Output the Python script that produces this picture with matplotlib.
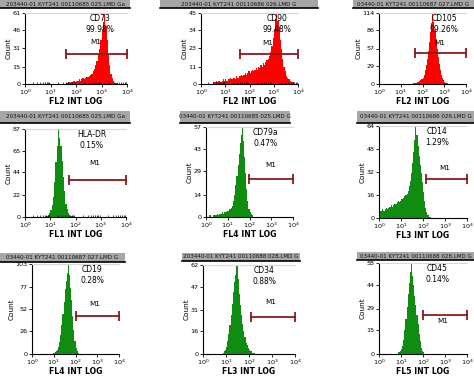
import numpy as np
import matplotlib
matplotlib.use("Agg")
import matplotlib.pyplot as plt

# flow cytometry histograms, counts per 0.05-decade channel starting at `start` (log10)
step = 0.05

cd73_start = 1.60
cd73 = [1, 1, 2, 1, 2, 2, 3, 2, 3, 3, 4, 3, 4, 5, 4, 5, 6, 6, 7, 8, 9, 11, 13, 16, 20,
        25, 30, 38, 46, 53, 61, 50, 38, 25, 16, 9, 5, 3, 1, 1]
cd90_start = 0.50
cd90 = [1, 1, 2, 1, 2, 2, 1, 2, 3, 2, 3, 2, 3, 3, 4, 3, 4, 4, 3, 5, 4, 5, 5, 6, 5, 6,
        7, 6, 7, 8, 7, 8, 9, 8, 9, 10, 9, 11, 10, 12, 11, 13, 12, 14, 15, 16, 18, 20,
        24, 29, 35, 41, 45, 40, 36, 28, 22, 16, 11, 8, 5, 4, 3, 2, 1, 1, 1]
cd105_start = 1.55
cd105 = [1, 1, 2, 2, 3, 4, 5, 6, 8, 10, 15, 22, 30, 40, 53, 68, 83, 98, 112, 100, 86,
         72, 56, 44, 32, 22, 15, 10, 6, 4, 2, 1]
hladr_start = 0.85
hladr = [1, 2, 4, 7, 12, 20, 35, 54, 70, 87, 78, 70, 55, 40, 26, 13, 8, 4, 2, 1, 1]
cd79a_start = 0.15
cd79a = [1, 1, 0, 1, 1, 1, 1, 2, 1, 2, 2, 2, 3, 2, 3, 3, 4, 4, 5, 5, 6, 7, 10, 14, 20,
         26, 33, 40, 47, 52, 57, 48, 38, 28, 18, 10, 5, 3, 2, 1]
cd14_start = 0.00
cd14 = [4, 5, 5, 6, 5, 6, 7, 6, 7, 8, 8, 9, 8, 9, 10, 10, 11, 12, 11, 12, 13, 13, 14,
        15, 16, 17, 19, 22, 26, 31, 38, 46, 54, 64, 58, 50, 43, 37, 31, 25, 18, 12, 7,
        4, 2, 1, 1]
cd19_start = 0.95
cd19 = [1, 1, 2, 3, 5, 8, 14, 22, 33, 46, 60, 74, 84, 93, 103, 90, 76, 62, 44, 28, 15,
        7, 3, 1]
cd34_start = 0.85
cd34 = [1, 2, 3, 5, 9, 14, 20, 27, 35, 43, 50, 55, 62, 52, 42, 34, 27, 21, 16, 12, 8,
        6, 4, 3, 2, 2, 1, 1]
cd45_start = 0.85
cd45 = [1, 1, 2, 3, 5, 9, 15, 22, 30, 38, 45, 52, 58, 50, 44, 37, 31, 25, 19, 13, 8,
        4, 2, 1]

markers = ["CD73", "CD90", "CD105", "HLA-DR", "CD79a", "CD14", "CD19", "CD34", "CD45"]
percents = ["99.98%", "99.48%", "99.26%", "0.15%", "0.47%", "1.29%", "0.28%", "0.88%", "0.14%"]
channels = ["FL2", "FL2", "FL2", "FL1", "FL4", "FL3", "FL4", "FL3", "FL5"]
ymax = [61, 45, 114, 87, 57, 64, 103, 62, 58]
yticks = [[0, 15, 31, 46, 61], [0, 11, 23, 34, 45], [0, 29, 57, 86, 114],
          [0, 22, 44, 65, 87], [0, 14, 29, 43, 57], [0, 16, 32, 48, 64],
          [0, 26, 52, 77, 103], [0, 16, 31, 47, 62], [0, 15, 29, 44, 58]]
gate_start = [42, 41, 43, 56, 95, 138, 105, 126, 98]   # M1 lower edge
gate_y = [26, 19, 50, 37, 24, 27, 43, 26, 25]
m1_x = [2.78, 2.73, 2.78, 2.75, 2.97, 2.97, 2.86, 2.95, 2.9]   # log10 position of "M1"
m1_y = [36, 26, 66, 53, 33, 35, 57, 36, 21]
name_x = [2.95, 3.15, 3.0, 2.65, 2.75, 2.63, 2.78, 2.65, 2.66]  # log10 position of label
files = ["203440-01 KYT241 00110685 025.LMD Ga",
         "203440-01 KYT241 00110686 026.LMD G",
         "03440-01 KYT241 00110687 027.LMD G",
         "203440-01 KYT241 00110685 025.LMD Ga",
         "03440-01 KYT241 00110685 025.LMD G",
         "03440-01 KYT241 00110686 026.LMD G",
         "03440-01 KYT241 00110687 027.LMD G",
         "203440-01 KYT241 00110688 028.LMD G",
         "03440-01 KYT241 00110688 028.LMD G"]
hists = [(cd73_start, cd73), (cd90_start, cd90), (cd105_start, cd105),
         (hladr_start, hladr), (cd79a_start, cd79a), (cd14_start, cd14),
         (cd19_start, cd19), (cd34_start, cd34), (cd45_start, cd45)]

W, H = 474, 377
# axes boxes in pixels: x0, x1, y_top, y_bottom
boxes = [(25, 127, 13, 84), (201, 298, 13, 84), (379, 466, 13, 84),
         (25, 126, 129, 217), (206, 293, 127, 217), (379, 467, 126, 218),
         (32, 119, 264, 354), (203, 295, 265, 354), (379, 467, 263, 354)]
# title bars: x0, x1, y_top, y_bottom
bars = [(0, 130, 0, 8), (160, 318, 0, 8), (353, 474, 0, 8),
        (0, 130, 111, 123), (180, 290, 111, 123), (357, 474, 111, 123),
        (0, 125, 253, 262), (182, 300, 253, 261), (357, 474, 252, 260)]

fig = plt.figure(figsize=(W / 100, H / 100), dpi=100)

def px(b):
    x0, x1, yt, yb = b
    return [x0 / W, 1 - yb / H, (x1 - x0) / W, (yb - yt) / H]

for i in range(9):
    start, counts = hists[i]
    counts = np.array(counts, dtype=float)
    edges = 10 ** (start + step * np.arange(len(counts) + 1))
    color = "#ff0000" if i < 3 else "#108c10"

    ax = fig.add_axes(px(boxes[i]))
    ax.stairs(counts, edges, fill=True, color=color, lw=0)
    ax.set_xscale("log")
    ax.set_xlim(1, 1e4)
    ax.set_ylim(0, ymax[i])
    ax.set_xticks([1, 10, 100, 1000, 10000])
    ax.set_xticklabels(["$10^0$", "$10^1$", "$10^2$", "$10^3$", "$10^4$"])
    ax.set_yticks(yticks[i])
    ax.tick_params(axis="both", labelsize=4.6, length=2, width=0.6, pad=1)
    ax.tick_params(axis="x", which="minor", length=1.5, width=0.5, direction="in")
    ax.set_xlabel(channels[i] + " INT LOG", fontsize=5.6, labelpad=-0.5, fontweight="bold")
    ax.set_ylabel("Count", fontsize=5.3, labelpad=0.5)
    ax.spines["right"].set_visible(False)
    ax.spines["top"].set_color("#d8d8d8")
    ax.spines["left"].set_linewidth(0.8)
    ax.spines["bottom"].set_linewidth(0.8)

    # M1 gate
    ax.plot([gate_start[i], 1e4], [gate_y[i], gate_y[i]], color="#8b1a1a", lw=1.3,
            marker="|", ms=7, mew=1.3, clip_on=False)
    ax.text(10 ** m1_x[i], m1_y[i], "M1", fontsize=5.2, ha="center", va="center")
    ax.text(10 ** name_x[i], ymax[i] * 0.985, markers[i] + "\n" + percents[i],
            fontsize=5.5, ha="center", va="top", linespacing=1.3)

    bx = fig.add_axes(px(bars[i]))
    bx.set_facecolor("#a6a6a6")
    bx.set_xticks([])
    bx.set_yticks([])
    for s in ["top", "left", "right"]:
        bx.spines[s].set_visible(False)
    bx.spines["bottom"].set_linewidth(1.2)
    bx.text(0.5, 0.5, files[i], fontsize=4.1, ha="center", va="center",
            transform=bx.transAxes, color="#111111")

fig.savefig("out.png", dpi=100)
